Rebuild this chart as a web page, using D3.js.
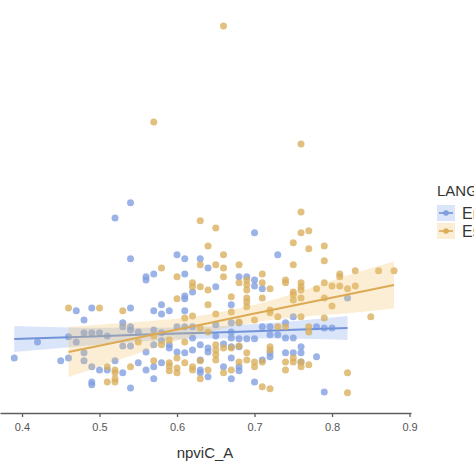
<!DOCTYPE html>
<html>
<head>
<meta charset="utf-8">
<script src="https://cdn.jsdelivr.net/npm/d3@7"></script>
<style>
    body { margin: 0; background: #fff; }
    svg { display: block; font-family: "Liberation Sans", Arial, sans-serif; }
    .x.axis path, .x.axis line { stroke: #5f5f5f; stroke-width: 1.3; }
    .x.axis text { fill: #555; font-size: 11px; }
</style>
</head>
<body>
<svg id="chart_1"></svg>
<script>
// data: [npviC_A, y] per language group
var groups = ["English", "Estonian"];

var bluePoints = [
    [0.54,54.3],[0.52,50.5],[0.54,40.3],[0.60,41.3],[0.61,40.3],[0.63,40.3],[0.64,38.0],[0.56,35.8],
    [0.56,35.0],[0.57,36.5],[0.61,36.5],[0.62,32.0],[0.61,31.0],[0.61,30.3],[0.65,33.3],[0.47,27.3],
    [0.49,28.0],[0.48,25.0],[0.54,28.0],[0.57,27.3],[0.58,28.8],[0.58,26.5],[0.59,27.3],[0.61,27.3],
    [0.67,28.8],[0.42,19.5],[0.39,15.5],[0.45,14.8],[0.46,15.5],[0.48,16.8],[0.49,13.3],[0.50,12.5],
    [0.51,12.5],[0.52,14.8],[0.53,11.8],[0.55,14.3],[0.56,12.5],[0.57,13.3],[0.57,10.3],[0.58,14.3],
    [0.59,18.8],[0.59,18.0],[0.60,17.0],[0.61,16.8],[0.62,20.5],[0.63,18.8],[0.63,12.5],[0.63,11.8],
    [0.64,18.0],[0.64,17.0],[0.64,10.8],[0.65,21.0],[0.66,13.3],[0.67,20.5],[0.67,15.5],[0.67,10.3],
    [0.49,9.5],[0.49,8.8],[0.54,8.0],[0.56,17.0],[0.53,24.3],[0.53,23.3],[0.54,23.3],[0.54,22.5],
    [0.53,18.5],[0.54,18.5],[0.48,21.8],[0.49,21.8],[0.50,21.8],[0.46,20.8],[0.47,19.5],[0.58,21.8],
    [0.57,22.5],[0.60,23.3],[0.62,23.3],[0.70,46.8],[0.73,41.3],[0.69,35.8],[0.70,35.0],[0.70,33.5],
    [0.71,32.8],[0.68,35.8],[0.75,25.8],[0.74,24.3],[0.67,24.3],[0.68,24.3],[0.71,23.3],[0.72,23.3],
    [0.72,21.3],[0.73,21.3],[0.68,20.3],[0.69,20.3],[0.70,20.3],[0.74,20.5],[0.75,20.5],[0.82,30.5],
    [0.67,22.0],[0.67,18.3],[0.68,18.3],[0.72,16.8],[0.72,15.8],[0.74,16.8],[0.75,16.8],[0.76,16.8],
    [0.76,18.3],[0.78,15.8],[0.68,13.3],[0.68,12.3],[0.71,15.0],[0.70,9.5],[0.79,7.0],[0.78,23.3],
    [0.79,23.0],[0.80,23.0],[0.76,14.5],[0.48,14.8],[0.62,17.5],[0.57,18.8],[0.58,19.8],[0.61,23.3],
    [0.65,23.8],[0.66,19.0],[0.63,15.0],[0.55,22.0],[0.51,21.0]
];

var goldPoints = [
    [0.46,28.0],[0.50,28.0],[0.53,27.3],[0.58,38.0],[0.60,35.8],[0.62,34.3],[0.62,33.3],[0.63,33.3],
    [0.64,32.5],[0.63,49.8],[0.65,48.0],[0.64,43.5],[0.66,41.3],[0.65,38.8],[0.66,38.0],[0.66,35.8],
    [0.60,30.3],[0.64,28.8],[0.65,26.5],[0.51,13.3],[0.52,12.5],[0.52,11.8],[0.52,10.3],[0.51,9.5],
    [0.52,9.5],[0.57,14.8],[0.59,14.3],[0.60,15.5],[0.60,11.8],[0.61,14.3],[0.62,13.3],[0.62,12.5],
    [0.63,14.8],[0.63,10.3],[0.64,12.5],[0.65,18.8],[0.65,17.5],[0.65,16.3],[0.65,15.0],[0.66,18.0],
    [0.67,18.0],[0.66,11.8],[0.67,12.5],[0.59,20.0],[0.61,19.5],[0.58,18.8],[0.66,98.5],[0.57,74.5],
    [0.76,69.0],[0.76,52.0],[0.76,46.8],[0.77,47.3],[0.75,44.3],[0.77,42.8],[0.79,43.5],[0.79,39.8],
    [0.75,38.8],[0.68,38.8],[0.71,36.5],[0.74,35.0],[0.74,34.3],[0.76,34.3],[0.76,33.3],[0.76,32.5],
    [0.79,34.3],[0.81,36.5],[0.81,35.8],[0.83,37.3],[0.86,37.3],[0.88,37.3],[0.80,33.5],[0.81,33.5],
    [0.82,32.8],[0.83,33.5],[0.78,32.8],[0.69,35.0],[0.69,33.8],[0.69,32.5],[0.71,34.3],[0.69,30.5],
    [0.69,29.5],[0.69,28.3],[0.71,30.5],[0.75,31.3],[0.75,30.0],[0.76,30.5],[0.72,27.5],[0.72,26.8],
    [0.73,25.8],[0.76,25.8],[0.68,24.5],[0.79,30.5],[0.85,25.8],[0.73,23.3],[0.74,23.3],[0.77,23.3],
    [0.77,22.0],[0.68,18.5],[0.69,16.8],[0.69,15.0],[0.68,14.5],[0.70,14.5],[0.70,13.3],[0.72,18.3],
    [0.72,17.5],[0.71,14.5],[0.74,14.5],[0.74,12.5],[0.75,15.5],[0.75,14.5],[0.76,14.5],[0.76,13.3],
    [0.77,13.8],[0.71,8.3],[0.72,7.8],[0.82,11.8],[0.82,6.8],[0.63,38.8],[0.68,34.3],[0.72,32.8],
    [0.67,30.8],[0.75,32.0],[0.54,13.3],[0.59,13.5],[0.59,12.3],[0.60,13.0],[0.55,19.5],[0.57,21.0],
    [0.62,26.0],[0.63,23.0],[0.67,27.0],[0.70,25.0],[0.79,25.5],[0.80,28.5],[0.64,22.0],[0.61,25.5]
];

// fitted line + confidence band: [x, fit, lo, hi]
var blueFit = [
    [0.39,20.25,17.0,23.5],[0.45,20.6,18.0,23.2],[0.50,20.95,18.85,23.05],[0.55,21.3,19.55,23.05],
    [0.60,21.6,20.1,23.1],[0.65,21.9,20.35,23.45],[0.70,22.2,20.4,24.0],[0.76,22.6,20.3,24.9],
    [0.82,23.0,20.0,26.0]
];
var goldFit = [
    [0.46,17.0,10.75,23.25],[0.52,19.4,14.7,24.1],[0.58,21.8,18.6,25.0],[0.64,24.2,22.0,26.4],
    [0.70,26.6,24.4,28.8],[0.76,29.0,25.8,32.2],[0.82,31.4,26.7,36.1],[0.88,33.75,27.9,39.6]
];

var xTicks = [0.4, 0.5, 0.6, 0.7, 0.8, 0.9];

var colors = {
    dot: ["#7f9de0", "#d9ae5c"],
    line: ["#7193d8", "#dcaa55"],
    band: ["rgba(125,160,235,0.28)", "rgba(240,195,100,0.28)"]
};

var width = 474,
    height = 474,
    axisY = 413;

var svg_1 = d3.select("#chart_1")
    .attr("width", width)
    .attr("height", height);

svg_1.append("rect")
    .attr("width", width)
    .attr("height", height)
    .attr("fill", "#fff");

// scales (left part of the plot is cropped off in the reference)
var xScale = d3.scaleLinear()
    .domain([0.3716, 0.9019])
    .range([0, 411]);

var yScale = d3.scaleLinear()
    .domain([0, 100])
    .range([420, 20]);

var plot = svg_1.append("g").attr("class", "plot");

var area = d3.area()
    .x(function (d) { return xScale(d[0]); })
    .y0(function (d) { return yScale(d[2]); })
    .y1(function (d) { return yScale(d[3]); })
    .curve(d3.curveMonotoneX);

var line = d3.line()
    .x(function (d) { return xScale(d[0]); })
    .y(function (d) { return yScale(d[1]); });

function drawGroup(points, fit, i) {
    var g = plot.append("g").attr("class", "group g" + i);

    g.selectAll("circle")
        .data(points)
        .enter()
        .append("circle")
        .attr("cx", function (d) { return xScale(d[0]); })
        .attr("cy", function (d) { return yScale(d[1]); })
        .attr("r", 3.5)
        .attr("fill", colors.dot[i])
        .attr("fill-opacity", 0.78);

    g.append("path")
        .datum(fit)
        .attr("d", area)
        .attr("fill", colors.band[i]);

    g.append("path")
        .datum(fit)
        .attr("d", line)
        .attr("fill", "none")
        .attr("stroke", colors.line[i])
        .attr("stroke-width", 2);
}

drawGroup(bluePoints, blueFit, 0);
drawGroup(goldPoints, goldFit, 1);

// x axis
var xAxis = d3.axisBottom(xScale)
    .tickValues(xTicks)
    .tickSize(4)
    .tickSizeOuter(0)
    .tickPadding(6)
    .tickFormat(d3.format(".1f"));

svg_1.append("g")
    .attr("class", "x axis")
    .attr("transform", "translate(0," + axisY + ")")
    .call(xAxis);

svg_1.append("text")
    .attr("x", 205)
    .attr("y", 458)
    .attr("text-anchor", "middle")
    .attr("fill", "#333")
    .style("font-size", "15px")
    .text("npviC_A");

// legend (cut by the right edge, as in the reference)
var legend = svg_1.append("g")
    .attr("class", "legend")
    .attr("transform", "translate(436,0)");

legend.append("text")
    .attr("x", 1)
    .attr("y", 196)
    .attr("fill", "#333")
    .style("font-size", "15px")
    .text("LANG");

var item = legend.selectAll(".item")
    .data(groups)
    .enter()
    .append("g")
    .attr("class", "item")
    .attr("transform", function (d, i) { return "translate(0," + (213 + i * 18) + ")"; });

item.append("rect")
    .attr("x", 1)
    .attr("y", -8)
    .attr("width", 18)
    .attr("height", 16)
    .attr("fill", function (d, i) { return colors.band[i]; });

item.append("line")
    .attr("x1", 3)
    .attr("x2", 17)
    .attr("stroke", function (d, i) { return colors.line[i]; })
    .attr("stroke-width", 1.6);

item.append("circle")
    .attr("cx", 10)
    .attr("r", 2.8)
    .attr("fill", function (d, i) { return colors.dot[i]; });

item.append("text")
    .attr("x", 26)
    .attr("y", 6)
    .attr("fill", "#333")
    .style("font-size", "16px")
    .text(function (d) { return d; });
</script>
</body>
</html>
